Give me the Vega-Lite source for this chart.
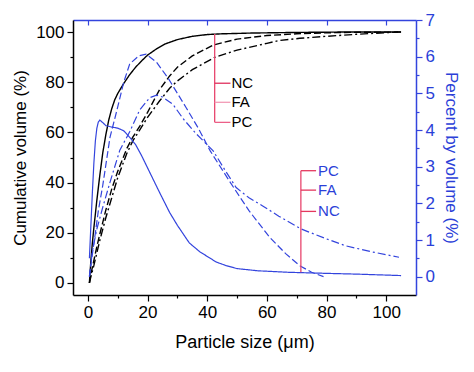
{
  "$schema": "https://vega.github.io/schema/vega-lite/v6.json",
  "width": 343,
  "height": 275,
  "autosize": {"type": "none"},
  "padding": {"left": 73, "top": 20, "right": 58, "bottom": 77},
  "background": "white",
  "config": {
    "view": {"stroke": null},
    "font": "Liberation Sans",
    "axis": {
      "labelFont": "Liberation Sans",
      "titleFont": "Liberation Sans",
      "labelFontSize": 17,
      "titleFontSize": 17,
      "titleFontWeight": "normal",
      "grid": false,
      "domainWidth": 1.5,
      "tickWidth": 1.2,
      "labelOverlap": false
    }
  },
  "datasets": {
    "cum": [
      {"s": "NC", "x": 0.5, "y": 0}, {"s": "NC", "x": 1, "y": 9}, {"s": "NC", "x": 1.5, "y": 16}, {"s": "NC", "x": 2, "y": 22},
      {"s": "NC", "x": 3, "y": 33}, {"s": "NC", "x": 4, "y": 43}, {"s": "NC", "x": 5, "y": 52}, {"s": "NC", "x": 6, "y": 59},
      {"s": "NC", "x": 7, "y": 65}, {"s": "NC", "x": 8, "y": 69.5}, {"s": "NC", "x": 9, "y": 73}, {"s": "NC", "x": 10, "y": 75.5},
      {"s": "NC", "x": 12, "y": 79.5}, {"s": "NC", "x": 14, "y": 83}, {"s": "NC", "x": 16, "y": 86}, {"s": "NC", "x": 18, "y": 88.5},
      {"s": "NC", "x": 20, "y": 90.8}, {"s": "NC", "x": 23, "y": 93.3}, {"s": "NC", "x": 26, "y": 95.3}, {"s": "NC", "x": 30, "y": 97},
      {"s": "NC", "x": 35, "y": 98.3}, {"s": "NC", "x": 40, "y": 99}, {"s": "NC", "x": 45, "y": 99.3}, {"s": "NC", "x": 55, "y": 99.6},
      {"s": "NC", "x": 70, "y": 99.85}, {"s": "NC", "x": 85, "y": 100}, {"s": "NC", "x": 105, "y": 100},
      {"s": "FA", "x": 0.5, "y": 0}, {"s": "FA", "x": 1, "y": 3.5}, {"s": "FA", "x": 2, "y": 9}, {"s": "FA", "x": 3, "y": 14.5},
      {"s": "FA", "x": 4, "y": 19.5}, {"s": "FA", "x": 6, "y": 29}, {"s": "FA", "x": 8, "y": 37.5}, {"s": "FA", "x": 10, "y": 44.5},
      {"s": "FA", "x": 13, "y": 53.5}, {"s": "FA", "x": 15, "y": 58}, {"s": "FA", "x": 17.4, "y": 62.5}, {"s": "FA", "x": 20, "y": 68},
      {"s": "FA", "x": 24, "y": 77}, {"s": "FA", "x": 27.4, "y": 82.5}, {"s": "FA", "x": 30, "y": 86}, {"s": "FA", "x": 35, "y": 90.5},
      {"s": "FA", "x": 42, "y": 94.8}, {"s": "FA", "x": 50, "y": 97.2}, {"s": "FA", "x": 60, "y": 98.6}, {"s": "FA", "x": 70, "y": 99.3},
      {"s": "FA", "x": 80, "y": 99.7}, {"s": "FA", "x": 90, "y": 99.9}, {"s": "FA", "x": 105, "y": 100},
      {"s": "PC", "x": 0.5, "y": 0}, {"s": "PC", "x": 1, "y": 2.5}, {"s": "PC", "x": 2, "y": 7}, {"s": "PC", "x": 3, "y": 12},
      {"s": "PC", "x": 4, "y": 17}, {"s": "PC", "x": 6, "y": 26}, {"s": "PC", "x": 8, "y": 34}, {"s": "PC", "x": 10, "y": 42},
      {"s": "PC", "x": 13, "y": 51.5}, {"s": "PC", "x": 15, "y": 56.5}, {"s": "PC", "x": 17.4, "y": 61}, {"s": "PC", "x": 20, "y": 66},
      {"s": "PC", "x": 24, "y": 72.5}, {"s": "PC", "x": 27.4, "y": 77.6}, {"s": "PC", "x": 30, "y": 80.5}, {"s": "PC", "x": 35, "y": 85},
      {"s": "PC", "x": 42.5, "y": 89.9}, {"s": "PC", "x": 50, "y": 92.8}, {"s": "PC", "x": 60, "y": 95.5}, {"s": "PC", "x": 64, "y": 96.6},
      {"s": "PC", "x": 71, "y": 97.5}, {"s": "PC", "x": 80, "y": 98.3}, {"s": "PC", "x": 90, "y": 99.1}, {"s": "PC", "x": 104, "y": 100}
    ],
    "pct": [
      {"s": "NC", "x": 0.5, "p": 0.5}, {"s": "NC", "x": 1, "p": 1.4}, {"s": "NC", "x": 1.5, "p": 2.3}, {"s": "NC", "x": 2, "p": 3.1},
      {"s": "NC", "x": 2.5, "p": 3.7}, {"s": "NC", "x": 3, "p": 4.05}, {"s": "NC", "x": 3.5, "p": 4.22}, {"s": "NC", "x": 4, "p": 4.27},
      {"s": "NC", "x": 5, "p": 4.2}, {"s": "NC", "x": 6, "p": 4.12}, {"s": "NC", "x": 8, "p": 4.08}, {"s": "NC", "x": 10, "p": 4.05},
      {"s": "NC", "x": 12, "p": 3.98}, {"s": "NC", "x": 14, "p": 3.8}, {"s": "NC", "x": 16, "p": 3.6}, {"s": "NC", "x": 18, "p": 3.3},
      {"s": "NC", "x": 20.7, "p": 2.85}, {"s": "NC", "x": 24, "p": 2.3}, {"s": "NC", "x": 27.4, "p": 1.75}, {"s": "NC", "x": 30, "p": 1.4},
      {"s": "NC", "x": 34, "p": 0.92}, {"s": "NC", "x": 37.5, "p": 0.68}, {"s": "NC", "x": 43, "p": 0.4}, {"s": "NC", "x": 46.4, "p": 0.3},
      {"s": "NC", "x": 50, "p": 0.22}, {"s": "NC", "x": 57, "p": 0.16}, {"s": "NC", "x": 67, "p": 0.12}, {"s": "NC", "x": 80, "p": 0.09},
      {"s": "NC", "x": 90, "p": 0.07}, {"s": "NC", "x": 105, "p": 0.03},
      {"s": "FA", "x": 0.5, "p": 0}, {"s": "FA", "x": 1.2, "p": 0.45}, {"s": "FA", "x": 2.3, "p": 1.07}, {"s": "FA", "x": 3.5, "p": 1.8},
      {"s": "FA", "x": 5, "p": 2.5}, {"s": "FA", "x": 7.4, "p": 3.8}, {"s": "FA", "x": 9.6, "p": 4.5}, {"s": "FA", "x": 12, "p": 5.3},
      {"s": "FA", "x": 14, "p": 5.8}, {"s": "FA", "x": 17, "p": 6.02}, {"s": "FA", "x": 19.5, "p": 6.07}, {"s": "FA", "x": 23, "p": 5.85},
      {"s": "FA", "x": 27, "p": 5.4}, {"s": "FA", "x": 30, "p": 5.0}, {"s": "FA", "x": 33, "p": 4.6}, {"s": "FA", "x": 37, "p": 4.05},
      {"s": "FA", "x": 41, "p": 3.43}, {"s": "FA", "x": 47.5, "p": 2.6}, {"s": "FA", "x": 54, "p": 1.8}, {"s": "FA", "x": 61, "p": 1.07},
      {"s": "FA", "x": 66.4, "p": 0.62}, {"s": "FA", "x": 71, "p": 0.3}, {"s": "FA", "x": 75, "p": 0.12}, {"s": "FA", "x": 79, "p": 0.0},
      {"s": "PC", "x": 0.5, "p": 0}, {"s": "PC", "x": 1.5, "p": 0.7}, {"s": "PC", "x": 3, "p": 1.3}, {"s": "PC", "x": 5, "p": 1.9},
      {"s": "PC", "x": 7.5, "p": 2.6}, {"s": "PC", "x": 10.7, "p": 3.45}, {"s": "PC", "x": 14, "p": 3.95}, {"s": "PC", "x": 17.4, "p": 4.55},
      {"s": "PC", "x": 20.7, "p": 4.88}, {"s": "PC", "x": 23, "p": 4.95}, {"s": "PC", "x": 25, "p": 4.9}, {"s": "PC", "x": 28.5, "p": 4.7},
      {"s": "PC", "x": 32, "p": 4.3}, {"s": "PC", "x": 36.4, "p": 3.89}, {"s": "PC", "x": 42, "p": 3.43}, {"s": "PC", "x": 46, "p": 2.9},
      {"s": "PC", "x": 49.7, "p": 2.43}, {"s": "PC", "x": 54, "p": 2.15}, {"s": "PC", "x": 58.6, "p": 1.93}, {"s": "PC", "x": 64, "p": 1.65},
      {"s": "PC", "x": 71.5, "p": 1.3}, {"s": "PC", "x": 80, "p": 1.03}, {"s": "PC", "x": 86.5, "p": 0.84}, {"s": "PC", "x": 95, "p": 0.68},
      {"s": "PC", "x": 104.3, "p": 0.53}
    ],
    "annCumStem": [{"x": 42.5, "y": 64, "y2": 99.2}],
    "annCum": [
      {"s": "NC", "x": 42.5, "x2": 47.8, "y": 79.6},
      {"s": "FA", "x": 42.5, "x2": 47.8, "y": 72.0},
      {"s": "PC", "x": 42.5, "x2": 47.8, "y": 64.0}
    ],
    "annPctStem": [{"x": 71.4, "p": 0.12, "p2": 2.89}],
    "annPct": [
      {"s": "PC", "x": 71.4, "x2": 76.5, "p": 2.89},
      {"s": "FA", "x": 71.4, "x2": 76.5, "p": 2.36},
      {"s": "NC", "x": 71.4, "x2": 76.5, "p": 1.78}
    ]
  },
  "resolve": {"scale": {"y": "independent"}, "axis": {"x": "independent", "y": "independent"}},
  "layer": [
    {
      "data": {"name": "cum"},
      "mark": {"type": "line", "color": "black", "strokeWidth": 1.4},
      "encoding": {
        "x": {
          "field": "x", "type": "quantitative",
          "scale": {"domain": [-5, 110], "nice": false, "zero": false},
          "axis": {
            "orient": "bottom",
            "values": [0, 10, 20, 30, 40, 50, 60, 70, 80, 90, 100],
            "labelExpr": "datum.value % 20 === 0 ? datum.label : ''",
            "tickSize": 6,
            "tickDash": {"condition": {"test": "datum.value % 20 === 0", "value": [6, 0]}, "value": [3, 20]},
            "title": "Particle size (μm)",
            "titleFontSize": 18,
            "domainColor": "black", "tickColor": "black", "labelColor": "black", "titleColor": "black",
            "labelPadding": 3, "titlePadding": 13
          }
        },
        "y": {
          "field": "y", "type": "quantitative",
          "scale": {"domain": [-4.8, 104.8], "nice": false, "zero": false},
          "axis": {
            "orient": "left",
            "values": [0, 10, 20, 30, 40, 50, 60, 70, 80, 90, 100],
            "labelExpr": "datum.value % 20 === 0 ? datum.label : ''",
            "tickSize": 6,
            "tickDash": {"condition": {"test": "datum.value % 20 === 0", "value": [6, 0]}, "value": [3, 20]},
            "title": "Cumulative volume (%)",
            "domainColor": "black", "tickColor": "black", "labelColor": "black", "titleColor": "black",
            "labelPadding": 3, "titlePadding": 6
          }
        },
        "strokeDash": {
          "field": "s", "type": "nominal",
          "scale": {"domain": ["NC", "FA", "PC"], "range": [[1, 0], [7, 3], [8, 3, 2, 3]]},
          "legend": null
        }
      }
    },
    {
      "data": {"name": "pct"},
      "mark": {"type": "line", "color": "#3344dd", "strokeWidth": 1.2},
      "encoding": {
        "x": {
          "field": "x", "type": "quantitative",
          "scale": {"domain": [-5, 110], "nice": false, "zero": false},
          "axis": {
            "orient": "top",
            "values": [0, 20, 40, 60, 80, 100],
            "labels": false,
            "tickSize": -5,
            "title": null,
            "domainColor": "#3344dd", "tickColor": "#3344dd"
          }
        },
        "y": {
          "field": "p", "type": "quantitative",
          "scale": {"domain": [-0.5, 7], "nice": false, "zero": false},
          "axis": {
            "orient": "right",
            "values": [0, 0.5, 1, 1.5, 2, 2.5, 3, 3.5, 4, 4.5, 5, 5.5, 6, 6.5, 7],
            "labelExpr": "datum.value % 1 === 0 ? format(datum.value, 'd') : ''",
            "tickSize": 6,
            "tickDash": {"condition": {"test": "datum.value % 1 === 0", "value": [6, 0]}, "value": [3, 20]},
            "title": "Percent by volume (%)",
            "domainColor": "#3344dd", "tickColor": "#3344dd", "labelColor": "#2b3fd8", "titleColor": "#2b3fd8",
            "labelPadding": 3, "titlePadding": 7
          }
        },
        "strokeDash": {
          "field": "s", "type": "nominal",
          "scale": {"domain": ["NC", "FA", "PC"], "range": [[1, 0], [7, 3], [8, 3, 2, 3]]},
          "legend": null
        }
      }
    },
    {
      "data": {"name": "annCumStem"},
      "mark": {"type": "rule", "color": "#e8466e", "strokeWidth": 1.3},
      "encoding": {
        "x": {"field": "x", "type": "quantitative", "scale": {"domain": [-5, 110], "nice": false, "zero": false}, "axis": null},
        "y": {"field": "y", "type": "quantitative", "scale": {"domain": [-4.8, 104.8], "nice": false, "zero": false}, "axis": null},
        "y2": {"field": "y2"}
      }
    },
    {
      "data": {"name": "annCum"},
      "mark": {"type": "rule", "strokeWidth": 1.3},
      "encoding": {
        "x": {"field": "x", "type": "quantitative", "scale": {"domain": [-5, 110], "nice": false, "zero": false}, "axis": null},
        "x2": {"field": "x2"},
        "y": {"field": "y", "type": "quantitative", "scale": {"domain": [-4.8, 104.8], "nice": false, "zero": false}, "axis": null},
        "color": {"field": "s", "type": "nominal", "scale": {"domain": ["NC", "FA", "PC"], "range": ["#e0305e", "#f29ab6", "#ec6088"]}, "legend": null}
      }
    },
    {
      "data": {"name": "annCum"},
      "mark": {"type": "text", "color": "black", "fontSize": 15, "font": "Liberation Sans", "align": "left", "baseline": "middle", "dx": 1},
      "encoding": {
        "x": {"field": "x2", "type": "quantitative", "scale": {"domain": [-5, 110], "nice": false, "zero": false}, "axis": null},
        "y": {"field": "y", "type": "quantitative", "scale": {"domain": [-4.8, 104.8], "nice": false, "zero": false}, "axis": null},
        "text": {"field": "s"}
      }
    },
    {
      "data": {"name": "annPctStem"},
      "mark": {"type": "rule", "color": "#e8466e", "strokeWidth": 1.3},
      "encoding": {
        "x": {"field": "x", "type": "quantitative", "scale": {"domain": [-5, 110], "nice": false, "zero": false}, "axis": null},
        "y": {"field": "p", "type": "quantitative", "scale": {"domain": [-0.5, 7], "nice": false, "zero": false}, "axis": null},
        "y2": {"field": "p2"}
      }
    },
    {
      "data": {"name": "annPct"},
      "mark": {"type": "rule", "strokeWidth": 1.3, "color": "#e4385e"},
      "encoding": {
        "x": {"field": "x", "type": "quantitative", "scale": {"domain": [-5, 110], "nice": false, "zero": false}, "axis": null},
        "x2": {"field": "x2"},
        "y": {"field": "p", "type": "quantitative", "scale": {"domain": [-0.5, 7], "nice": false, "zero": false}, "axis": null}
      }
    },
    {
      "data": {"name": "annPct"},
      "mark": {"type": "text", "color": "#2b3fd8", "fontSize": 15, "font": "Liberation Sans", "align": "left", "baseline": "middle", "dx": 2},
      "encoding": {
        "x": {"field": "x2", "type": "quantitative", "scale": {"domain": [-5, 110], "nice": false, "zero": false}, "axis": null},
        "y": {"field": "p", "type": "quantitative", "scale": {"domain": [-0.5, 7], "nice": false, "zero": false}, "axis": null},
        "text": {"field": "s"}
      }
    }
  ]
}
